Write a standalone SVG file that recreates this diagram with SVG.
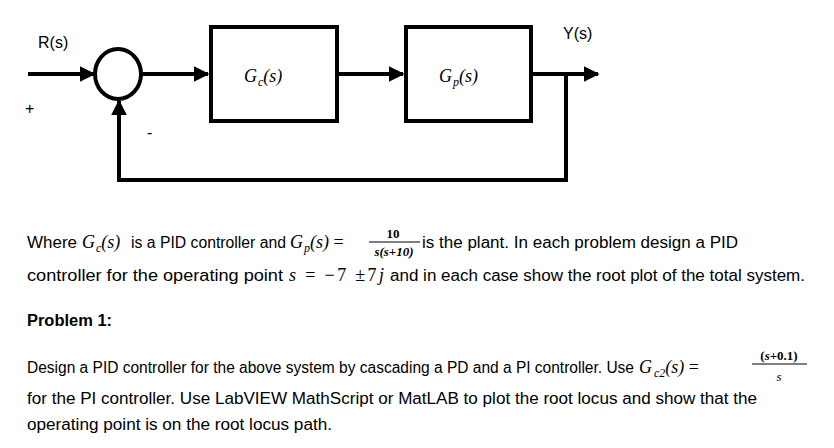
<svg xmlns="http://www.w3.org/2000/svg" width="834" height="448" viewBox="0 0 834 448">
<style>
.ln{stroke:#000;stroke-width:4;fill:none}
.t{font-family:"Liberation Sans",Arial,sans-serif;font-size:16px;fill:#000}
.m{font-family:"Liberation Serif","DejaVu Serif",serif;font-style:italic;font-size:18px;fill:#000}
.mr{font-family:"Liberation Serif","DejaVu Serif",serif;font-size:18px;font-style:normal;fill:#000}
.s{font-family:"Liberation Serif",serif;font-size:12px;fill:#000}
.f{font-family:"Liberation Serif",serif;font-size:13px;fill:#000}
</style>
<defs>
<marker id="ah" viewBox="0 0 10 10" refX="9" refY="5" markerWidth="4" markerHeight="4" orient="auto" markerUnits="strokeWidth">
<path d="M0,0 L10,5 L0,10 z" fill="#000"/>
</marker>
</defs>
<rect width="834" height="448" fill="#fff"/>
<g id="connectors">
<line class="ln" x1="28" y1="74" x2="94" y2="74" marker-end="url(#ah)"/>
<line class="ln" x1="142" y1="74" x2="208" y2="74" marker-end="url(#ah)"/>
<line class="ln" x1="337" y1="74" x2="403" y2="74" marker-end="url(#ah)"/>
<line class="ln" x1="531" y1="74" x2="598" y2="74" marker-end="url(#ah)"/>
<polyline class="ln" points="566,74 566,180 119,180 119,101" marker-end="url(#ah)"/>
</g>
<g id="sum"><ellipse class="ln" cx="118" cy="74" rx="23" ry="25"/></g>
<g id="gc"><rect class="ln" x="211" y="27" width="126" height="94"/>
<text x="244" y="82" class="m">G<tspan class="s" dx="1" dy="4">c</tspan><tspan dy="-4">(s)</tspan></text></g>
<g id="gp"><rect class="ln" x="406" y="27" width="125" height="94"/>
<text x="439" y="82" class="m">G<tspan class="s" dx="1" dy="4">p</tspan><tspan dy="-4">(s)</tspan></text></g>
<g id="labels">
<text x="38" y="48" class="t" font-size="14">R(s)</text>
<text x="563" y="39" class="t" font-size="14">Y(s)</text>
<text x="25" y="114" class="t" font-size="13">+</text>
<text x="147" y="138" class="t" font-size="13">-</text>
</g>
<g id="text">
<text x="27" y="248" class="t" textLength="50" lengthAdjust="spacingAndGlyphs">Where</text>
<text x="82" y="248" class="m">G<tspan class="s" dx="1" dy="4">c</tspan><tspan dy="-4">(s)</tspan></text>
<text x="131" y="248" class="t" textLength="155" lengthAdjust="spacingAndGlyphs">is a PID controller and</text>
<text x="290" y="248" class="m">G<tspan class="s" dx="1" dy="4">p</tspan><tspan dy="-4">(s)</tspan><tspan class="mr"> =</tspan></text>
<text x="393" y="238" class="f" text-anchor="middle" font-weight="bold">10</text>
<line x1="369" y1="242" x2="420" y2="242" stroke="#000" stroke-width="1"/>
<text x="394" y="256" class="f" text-anchor="middle" font-style="italic" font-weight="bold">s(s+10)</text>
<text x="422" y="248" class="t" textLength="316" lengthAdjust="spacingAndGlyphs">is the plant.  In each problem design a PID</text>
<text x="27" y="281" class="t" textLength="256" lengthAdjust="spacingAndGlyphs">controller for the operating point</text>
<text x="289" y="281" class="m" textLength="95" lengthAdjust="spacing">s<tspan class="mr"> = −7 ±7</tspan>j</text>
<text x="390" y="281" class="t" textLength="415" lengthAdjust="spacingAndGlyphs">and in each case show the root plot of the total system.</text>
<text x="27" y="326" class="t" font-weight="bold" textLength="85" lengthAdjust="spacingAndGlyphs">Problem 1:</text>
<text x="27" y="373" class="t" textLength="607" lengthAdjust="spacingAndGlyphs">Design a PID controller for the above system by cascading a PD and a PI controller.  Use</text>
<text x="639" y="373" class="m">G<tspan class="s" dx="2" dy="4">c2</tspan><tspan dy="-4">(s)</tspan><tspan class="mr"> =</tspan></text>
<text x="779" y="360" class="f" text-anchor="middle" font-weight="bold">(<tspan font-style="italic">s</tspan>+0.1)</text>
<line x1="752" y1="364" x2="807" y2="364" stroke="#000" stroke-width="1"/>
<text x="779" y="381" class="f" text-anchor="middle" font-style="italic">s</text>
<text x="27" y="404" class="t" textLength="730" lengthAdjust="spacingAndGlyphs">for the PI controller.  Use LabVIEW MathScript or MatLAB to plot the root locus and show that the</text>
<text x="27" y="430" class="t" textLength="305" lengthAdjust="spacingAndGlyphs">operating point is on the root locus path.</text>
</g>
</svg>
